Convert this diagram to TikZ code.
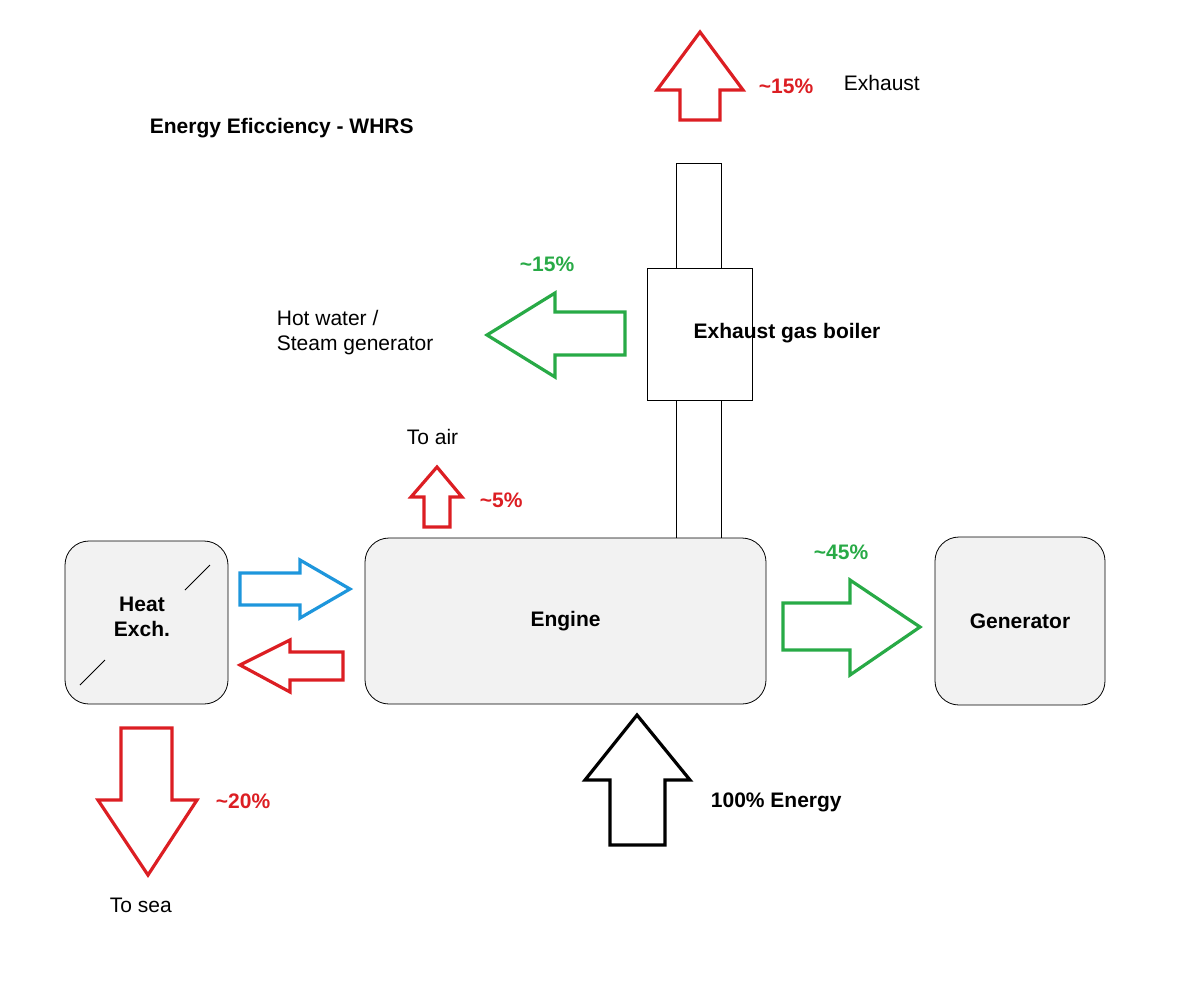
\documentclass[tikz,border=0pt]{standalone}
\usepackage{fontspec}
\setmainfont{Liberation Sans}
\usepackage{xcolor}
\usetikzlibrary{positioning}
\definecolor{hotred}{RGB}{220,30,35}
\definecolor{recgreen}{RGB}{40,170,70}
\definecolor{coolblue}{RGB}{30,150,220}
\definecolor{boxfill}{RGB}{242,242,242}
\tikzset{
  unit/.style={draw,fill=boxfill,rounded corners=12pt,font=\bfseries,align=center},
  pipe/.style={draw,fill=white},
  flow/.style={line width=1.6pt,line join=miter},
  lbl/.style={inner sep=0.75pt,font=\fontsize{10.5}{12.5}\selectfont},
  pct/.style={lbl,font=\fontsize{10.5}{12.5}\selectfont\bfseries},
}
\begin{document}
\begin{tikzpicture}[x=0.5pt,y=0.5pt,yscale=-1]
\useasboundingbox (0,0) rectangle (1200,986);

% stack and boiler
\draw [pipe] (676,163) rectangle (721,268);
\draw [pipe] (676,400) rectangle (721,538);
\node [draw,fill=white,minimum width=52.5pt,minimum height=66pt,inner sep=0pt] (boiler) at (699.5,334) {};
\node [lbl,font=\fontsize{10.5}{12.5}\selectfont\bfseries] at (787,333) {Exhaust gas boiler};

% units
\node [unit,minimum width=81.5pt,minimum height=81.5pt] (hx) at (146.5,622.5) {};
\node [lbl,font=\fontsize{10.5}{12.5}\selectfont\bfseries,align=center] (hxtext) at (142,617) {Heat\\Exch.};
\draw (185,590) -- (210,565) (80,685) -- (105,660);
\node [unit,minimum width=200.5pt,minimum height=83pt,font=\fontsize{10.5}{12.5}\selectfont\bfseries] (engine) at (565.5,621) {Engine};
\node [unit,minimum width=85pt,minimum height=84pt,font=\fontsize{10.5}{12.5}\selectfont\bfseries] (gen) at (1020,621) {Generator};

% flow arrows
\draw [flow,hotred] (680,120) -- (680,90) -- (657,90) -- (700,32) -- (743,90) -- (720,90) -- (720,120) -- cycle;
\draw [flow,recgreen] (625,312) -- (555,312) -- (555,293) -- (487,335) -- (555,377) -- (555,355) -- (625,355) -- cycle;
\draw [flow,hotred] (424,527) -- (424,497) -- (411,497) -- (437,467) -- (462,497) -- (450,497) -- (450,527) -- cycle;
\draw [flow,coolblue] (240,573) -- (300,573) -- (300,560) -- (350,589) -- (300,618) -- (300,605) -- (240,605) -- cycle;
\draw [flow,hotred] (343,652) -- (290,652) -- (290,640) -- (240,665) -- (290,692) -- (290,680) -- (343,680) -- cycle;
\draw [flow,recgreen] (783,603) -- (850,603) -- (850,580) -- (920,627) -- (850,675) -- (850,650) -- (783,650) -- cycle;
\draw [flow,black] (610,845) -- (610,780) -- (585,780) -- (637,715) -- (690,780) -- (665,780) -- (665,845) -- cycle;
\draw [flow,hotred] (121,728) -- (172,728) -- (172,800) -- (197,800) -- (148,875) -- (98,800) -- (121,800) -- cycle;

% labels
\node [pct,anchor=west] (title) at (148,128) {Energy Eficciency - WHRS};
\node [pct,hotred,anchor=west] (pexh) at (757,86) {\textasciitilde15\%};
\node [lbl,anchor=west] (exh) at (842,83) {Exhaust};
\node [pct,recgreen,anchor=west] (phw) at (518,264) {\textasciitilde15\%};
\node [lbl,anchor=west,align=left] (hw) at (275,333) {Hot water /\\Steam generator};
\node [lbl,anchor=west] (air) at (405,437) {To air};
\node [pct,hotred,anchor=west] (pair) at (478,500) {\textasciitilde5\%};
\node [pct,recgreen,anchor=west] (pgen) at (812,552) {\textasciitilde45\%};
\node [pct,anchor=west] (fuel) at (709,802) {100\% Energy};
\node [pct,hotred,anchor=west] (psea) at (214,801) {\textasciitilde20\%};
\node [lbl,anchor=west] (sea) at (108,905) {To sea};
\end{tikzpicture}
\end{document}
